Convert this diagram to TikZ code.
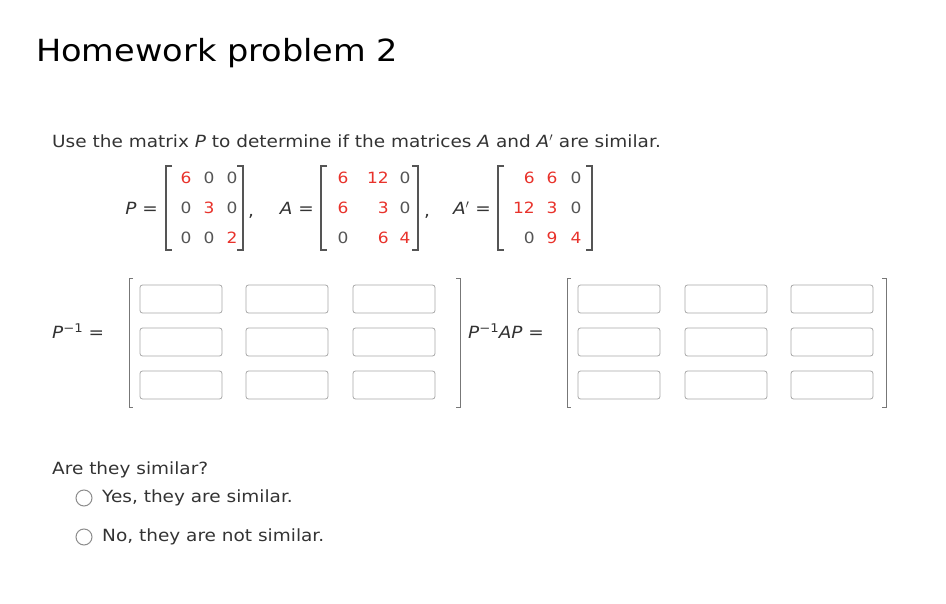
\documentclass[tikz,border=0pt]{standalone}
\usepackage{fontspec}
\setmainfont{DejaVu Sans}[FakeStretch=1.1]
\definecolor{ered}{HTML}{E8322B}
\definecolor{egray}{HTML}{333333}
\definecolor{bgray}{HTML}{555555}
\newcommand{\supm}{\raisebox{6pt}{\fontsize{12}{12}\selectfont −1}}
\begin{document}
\begin{tikzpicture}[x=1pt,y=-1pt,
  txt/.style={inner sep=0pt,text=egray,font=\fontsize{16.8}{20}\selectfont},
  ent/.style={inner sep=0pt,text=ered,font=\fontsize{15.5}{18}\selectfont},
  zer/.style={inner sep=0pt,text=bgray,font=\fontsize{15.5}{18}\selectfont},
  brk/.style={draw=bgray,line width=1.3pt},
  bbrk/.style={draw=bgray!80,line width=1pt},
  inbox/.style={draw=gray!70,rounded corners=2.5pt,line width=0.8pt,minimum width=82pt,minimum height=28pt,inner sep=0pt},
  radio/.style={draw=gray!90,circle,line width=1pt,minimum size=16pt,inner sep=0pt}]
\useasboundingbox (0,0) rectangle (946,604);
\node[anchor=base west,inner sep=0pt,font=\fontsize{30.5}{36}\selectfont,text=black] (title) at (36,62) {Homework problem 2};
\node[txt,anchor=west] (q) at (52,141) {Use the matrix \textit{P} to determine if the matrices \textit{A} and \textit{A}\('\) are similar.};
% P
\node[txt,anchor=east] (pl) at (158,208) {\textit{P} =};
\draw[brk] (172,166) -- (166,166) -- (166,250) -- (172,250);
\draw[brk] (237,166) -- (243,166) -- (243,250) -- (237,250);
\node[ent] (p11) at (186,178) {6}; \node[zer] (p12) at (209,178) {0}; \node[zer] (p13) at (232,178) {0};
\node[zer] (p21) at (186,208) {0}; \node[ent] (p22) at (209,208) {3}; \node[zer] (p23) at (232,208) {0};
\node[zer] (p31) at (186,238) {0}; \node[zer] (p32) at (209,238) {0}; \node[ent] (p33) at (232,238) {2};
\node[txt] (c1) at (251,216) {,};
% A
\node[txt,anchor=east] (al) at (314,208) {\textit{A} =};
\draw[brk] (327,166) -- (321,166) -- (321,250) -- (327,250);
\draw[brk] (412,166) -- (418,166) -- (418,250) -- (412,250);
\node[ent] (a11) at (343,178) {6}; \node[ent,anchor=east] (a12) at (389,178) {12}; \node[zer] (a13) at (405,178) {0};
\node[ent] (a21) at (343,208) {6}; \node[ent,anchor=east] (a22) at (389,208) {3}; \node[zer] (a23) at (405,208) {0};
\node[zer] (a31) at (343,238) {0}; \node[ent,anchor=east] (a32) at (389,238) {6}; \node[ent] (a33) at (405,238) {4};
\node[txt] (c2) at (427,216) {,};
% A'
\node[txt,anchor=east] (apl) at (491,208) {\textit{A}\('\) =};
\draw[brk] (504,166) -- (498,166) -- (498,250) -- (504,250);
\draw[brk] (586,166) -- (592,166) -- (592,250) -- (586,250);
\node[ent,anchor=east] (b11) at (535,178) {6}; \node[ent] (b12) at (552,178) {6}; \node[zer] (b13) at (576,178) {0};
\node[ent,anchor=east] (b21) at (535,208) {12}; \node[ent] (b22) at (552,208) {3}; \node[zer] (b23) at (576,208) {0};
\node[zer,anchor=east] (b31) at (535,238) {0}; \node[ent] (b32) at (552,238) {9}; \node[ent] (b33) at (576,238) {4};
% P^-1
\node[txt,anchor=west] (pinv) at (52,331) {\textit{P}\supm\ =};
\draw[bbrk] (133,279) -- (129,279) -- (129,407) -- (133,407);
\draw[bbrk] (456,279) -- (460,279) -- (460,407) -- (456,407);
\foreach \c [count=\i] in {181,287,394}{
  \foreach \r [count=\j] in {299,342,385}{
    \node[inbox] (u\j\i) at (\c,\r) {};
  }
}
% P^-1AP
\node[txt,anchor=west] (pap) at (468,331) {\textit{P}\supm\textit{AP} =};
\draw[bbrk] (571,279) -- (567,279) -- (567,407) -- (571,407);
\draw[bbrk] (882,279) -- (886,279) -- (886,407) -- (882,407);
\foreach \c [count=\i] in {619,726,832}{
  \foreach \r [count=\j] in {299,342,385}{
    \node[inbox] (v\j\i) at (\c,\r) {};
  }
}
% question
\node[txt,anchor=west] (sim) at (52,470) {Are they similar?};
\node[radio] (r1) at (84,498) {};
\node[txt,anchor=west] (yes) at (102,498) {Yes, they are similar.};
\node[radio] (r2) at (84,537) {};
\node[txt,anchor=west] (no) at (102,537) {No, they are not similar.};
\end{tikzpicture}
\end{document}
